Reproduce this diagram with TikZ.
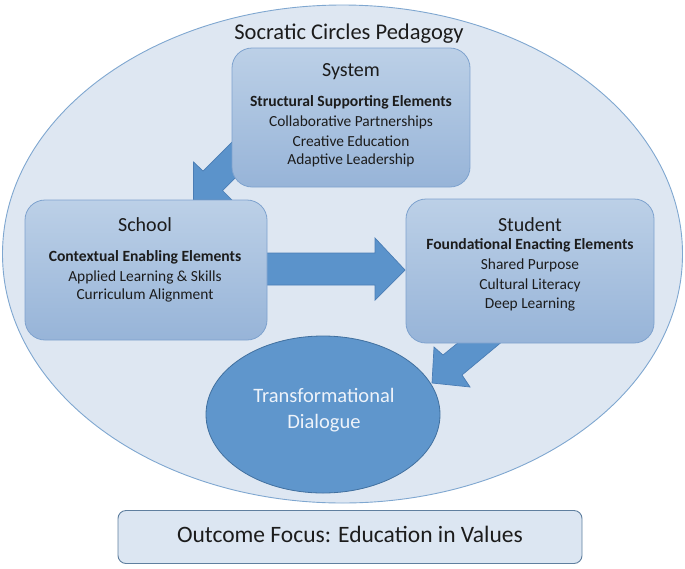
\documentclass[tikz,border=0pt]{standalone}
\usepackage{fontspec}
\setmainfont{Carlito}
\usetikzlibrary{shapes.geometric}
\definecolor{outerfill}{HTML}{DEE7F2}
\definecolor{outerline}{HTML}{7FA7D0}
\definecolor{boxtop}{HTML}{BCD0E7}
\definecolor{boxbot}{HTML}{97B4D8}
\definecolor{boxline}{HTML}{7EA2CE}
\definecolor{arrfill}{HTML}{5B93CB}
\definecolor{arrline}{HTML}{4A7DB5}
\definecolor{dlgfill}{HTML}{5F96CC}
\definecolor{dlgline}{HTML}{41709F}
\definecolor{outfill}{HTML}{DCE6F2}
\definecolor{outline}{HTML}{5F7F9F}
\definecolor{txt}{HTML}{1C1C1C}
\definecolor{wtxt}{HTML}{EEF3FA}
\begin{document}
\begin{tikzpicture}[x=1pt,y=-1pt,
  blockbox/.style={draw=boxline, line width=0.8pt, rounded corners=20pt,
    top color=boxtop, bottom color=boxbot, inner sep=0pt, minimum width=#1},
  blockarrow/.style={draw=arrline, line width=0.7pt, fill=arrfill, line join=miter},
  lbl/.style={anchor=base, inner sep=0pt, text=txt},
  big/.style={font=\fontsize{22.5}{26}\selectfont},
  head/.style={font=\fontsize{20}{24}\selectfont},
  sub/.style={font=\fontsize{15.6}{18}\selectfont\bfseries},
  item/.style={font=\fontsize{15.4}{18}\selectfont}
]
\useasboundingbox (0,0) rectangle (685,568);
% outer ellipse
\node[ellipse, draw=outerline, line width=0.9pt, fill=outerfill,
  minimum width=680pt, minimum height=498pt, inner sep=0pt] (outer) at (342.5,254) {};
\node[lbl, big] (title) at (349,39) {Socratic Circles Pedagogy};

% dialogue ellipse
\node[ellipse, draw=dlgline, line width=0.8pt, fill=dlgfill,
  minimum width=234pt, minimum height=157pt, inner sep=0pt] (dialogue) at (323,414.5) {};
\node[lbl, text=wtxt, font=\fontsize{20.5}{24}\selectfont] (dlg1) at (324,402) {Transformational};
\node[lbl, text=wtxt, font=\fontsize{20.5}{24}\selectfont] (dlg2) at (324,428.5) {Dialogue};

% arrow system -> school (behind boxes)
\draw[blockarrow] (266.5,146.5) -- (222.5,190.5) -- (232,200) -- (193.5,200)
  -- (193.5,162) -- (203,171) -- (247,127) -- cycle;
% arrow school -> student
\draw[blockarrow] (260,253) -- (375,253) -- (375,238) -- (405,270) -- (375,300)
  -- (375,285) -- (260,285) -- cycle;
% arrow student -> dialogue
\draw[blockarrow] (510,335) -- (462,375) -- (470,387) -- (432,383) -- (434,347)
  -- (443,355) -- (470,333) -- cycle;

% boxes
\node[blockbox=238pt, minimum height=139pt] (system) at (351,117.5) {};
\node[blockbox=242pt, minimum height=140pt] (school) at (146,270) {};
\node[blockbox=248pt, minimum height=144pt] (student) at (530,271) {};

% system text
\node[lbl, head] (systemT) at (351,76) {System};
\node[lbl, sub] (systemS) at (351,106) {Structural Supporting Elements};
\node[lbl, item] (sys1) at (351,126) {Collaborative Partnerships};
\node[lbl, item] (sys2) at (351,146) {Creative Education};
\node[lbl, item] (sys3) at (351,164.5) {Adaptive Leadership};

% school text
\node[lbl, head] (schoolT) at (145,231) {School};
\node[lbl, sub] (schoolS) at (145,261) {Contextual Enabling Elements};
\node[lbl, item] (sch1) at (145,281) {Applied Learning \& Skills};
\node[lbl, item] (sch2) at (145,299.5) {Curriculum Alignment};

% student text
\node[lbl, head] (studentT) at (530,231) {Student};
\node[lbl, sub] (studentS) at (530,249.5) {Foundational Enacting Elements};
\node[lbl, item] (stu1) at (530,269.5) {Shared Purpose};
\node[lbl, item] (stu2) at (530,289) {Cultural Literacy};
\node[lbl, item] (stu3) at (530,308.5) {Deep Learning};

% outcome box
\node[draw=outline, line width=0.9pt, fill=outfill, rounded corners=8pt,
  minimum width=464pt, minimum height=53pt, inner sep=0pt] (outcome) at (350,537) {};
\node[lbl, font=\fontsize{23.5}{27}\selectfont] (outT) at (350,542.5) {Outcome Focus: Education in Values};
\end{tikzpicture}
\end{document}
